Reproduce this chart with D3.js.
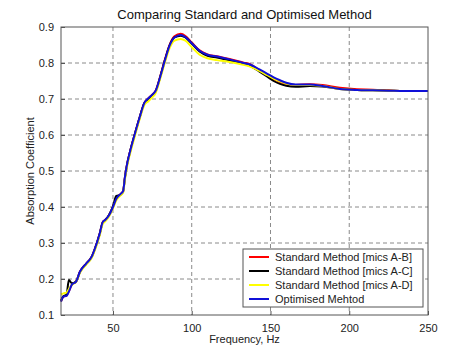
<!DOCTYPE html>
<html>
<head>
<meta charset="utf-8">
<script src="https://cdn.jsdelivr.net/npm/d3@7"></script>
<style>
  body { margin: 0; background: #fff; }
  svg { font-family: "Liberation Sans", Arial, sans-serif; }
</style>
</head>
<body>
<div id="chart"></div>
<script>
// frequencies (Hz) shared by all series
let freq = [17, 18.5, 20.5, 22, 24, 26.5, 29, 33, 36.5, 38.5, 41.5, 43.5, 45, 47.5, 50, 52, 55, 56.5, 57.5, 59,
    61, 64, 67, 70, 72.5, 75, 77, 80, 83, 86, 89, 93, 96, 100, 105, 110, 116, 124, 133, 137,
    143, 148, 152, 156, 160, 166, 175, 183, 194, 205, 215, 225, 235, 250];

let stdAB = [0.138, 0.151, 0.154, 0.166, 0.185, 0.192, 0.220, 0.243, 0.262, 0.284, 0.325, 0.358, 0.364, 0.377, 0.400, 0.422, 0.437, 0.445, 0.480, 0.520,
    0.557, 0.605, 0.650, 0.690, 0.702, 0.712, 0.722, 0.763, 0.810, 0.851, 0.874, 0.881, 0.875, 0.857, 0.835, 0.824, 0.819, 0.811, 0.801, 0.797,
    0.780, 0.766, 0.755, 0.747, 0.742, 0.739, 0.741, 0.739, 0.731, 0.727, 0.726, 0.724, 0.722, 0.722];

let stdAC = [0.140, 0.152, 0.156, 0.197, 0.188, 0.193, 0.219, 0.242, 0.261, 0.283, 0.324, 0.357, 0.363, 0.378, 0.402, 0.430, 0.434, 0.444, 0.478, 0.519,
    0.556, 0.604, 0.649, 0.689, 0.698, 0.710, 0.720, 0.761, 0.808, 0.849, 0.871, 0.876, 0.871, 0.854, 0.832, 0.820, 0.815, 0.807, 0.797, 0.792,
    0.776, 0.762, 0.750, 0.742, 0.737, 0.734, 0.736, 0.735, 0.728, 0.725, 0.724, 0.723, 0.722, 0.722];

let stdAD = [0.157, 0.160, 0.162, 0.172, 0.184, 0.191, 0.217, 0.240, 0.259, 0.280, 0.320, 0.353, 0.360, 0.374, 0.396, 0.418, 0.433, 0.441, 0.474, 0.514,
    0.551, 0.599, 0.645, 0.684, 0.694, 0.705, 0.716, 0.757, 0.802, 0.842, 0.862, 0.867, 0.862, 0.844, 0.823, 0.813, 0.808, 0.803, 0.795, 0.790,
    0.778, 0.766, 0.757, 0.749, 0.743, 0.739, 0.739, 0.736, 0.728, 0.725, 0.724, 0.723, 0.722, 0.722];

let optimised = [0.137, 0.151, 0.153, 0.165, 0.185, 0.192, 0.220, 0.243, 0.262, 0.284, 0.325, 0.358, 0.364, 0.377, 0.400, 0.422, 0.437, 0.445, 0.480, 0.520,
    0.557, 0.605, 0.650, 0.690, 0.702, 0.712, 0.722, 0.762, 0.808, 0.849, 0.871, 0.878, 0.872, 0.855, 0.834, 0.823, 0.818, 0.810, 0.800, 0.796,
    0.782, 0.770, 0.760, 0.752, 0.745, 0.740, 0.740, 0.736, 0.728, 0.725, 0.724, 0.723, 0.722, 0.722];

let seriesNames = ["Standard Method [mics A-B]", "Standard Method [mics A-C]", "Standard Method [mics A-D]", "Optimised Mehtod"];
let seriesColors = ["#ff0000", "#000000", "#ffff00", "#1010d8"];
let xTicks = [50, 100, 150, 200, 250];
let yTicks = [0.1, 0.2, 0.3, 0.4, 0.5, 0.6, 0.7, 0.8, 0.9];

let series = [stdAB, stdAC, stdAD, optimised].map(function(vals, i) {
    return {
        name: seriesNames[i],
        color: seriesColors[i],
        values: vals.map(function(v, j) { return {f: freq[j], v: v}; })
    };
});

let W = 474, H = 349;
let margin = {top: 27, right: 46, bottom: 34, left: 61};
let width = W - margin.left - margin.right;
let height = H - margin.top - margin.bottom;

let svg = d3.select("#chart").append("svg")
    .attr("width", W)
    .attr("height", H);

let g = svg.append("g")
    .attr("transform", "translate(" + margin.left + "," + margin.top + ")");

let x = d3.scaleLinear().domain([17, 250]).range([0, width]);
let y = d3.scaleLinear().domain([0.1, 0.9]).range([height, 0]);

// grid
g.append("g")
    .selectAll("line")
    .data(xTicks.slice(0, -1))
    .enter().append("line")
    .attr("x1", function(d) { return x(d); })
    .attr("x2", function(d) { return x(d); })
    .attr("y1", 0)
    .attr("y2", height)
    .attr("stroke", "#8a8a8a")
    .attr("stroke-dasharray", "4,3");

g.append("g")
    .selectAll("line")
    .data(yTicks.slice(1, -1))
    .enter().append("line")
    .attr("x1", 0)
    .attr("x2", width)
    .attr("y1", function(d) { return y(d); })
    .attr("y2", function(d) { return y(d); })
    .attr("stroke", "#8a8a8a")
    .attr("stroke-dasharray", "4,3");

// axes (matlab style: ticks inside)
let xAxis = g.append("g")
    .attr("transform", "translate(0," + height + ")")
    .call(d3.axisBottom(x).tickValues(xTicks).tickSize(-4).tickPadding(9).tickFormat(d3.format("d")));
let yAxis = g.append("g")
    .call(d3.axisLeft(y).tickValues(yTicks).tickSize(-4).tickPadding(7).tickFormat(d3.format(".1f")));

[xAxis, yAxis].forEach(function(a) {
    a.select(".domain").remove();
    a.selectAll("line").attr("stroke", "#555");
    a.selectAll("text").attr("font-size", 11).attr("fill", "#222")
        .attr("font-family", "Liberation Sans, Arial, sans-serif");
});

// lines
let line = d3.line()
    .x(function(d) { return x(d.f); })
    .y(function(d) { return y(d.v); })
    .curve(d3.curveMonotoneX);

g.append("g")
    .selectAll("path")
    .data(series)
    .enter().append("path")
    .attr("d", function(d) { return line(d.values); })
    .attr("fill", "none")
    .attr("stroke", function(d) { return d.color; })
    .attr("stroke-width", 2)
    .attr("stroke-linejoin", "round");

// frame
g.append("rect")
    .attr("width", width)
    .attr("height", height)
    .attr("fill", "none")
    .attr("stroke", "#555")
    .attr("stroke-width", 1);

// legend
let lg = g.append("g")
    .attr("transform", "translate(" + (width - 185) + "," + (height - 66) + ")");

lg.append("rect")
    .attr("width", 180)
    .attr("height", 58)
    .attr("fill", "#fff")
    .attr("stroke", "#555");

let item = lg.selectAll("g")
    .data(series)
    .enter().append("g")
    .attr("transform", function(d, i) { return "translate(0," + (8 + i * 14) + ")"; });

item.append("line")
    .attr("x1", 6)
    .attr("x2", 26)
    .attr("stroke", function(d) { return d.color; })
    .attr("stroke-width", 2);

item.append("text")
    .attr("x", 32)
    .attr("dy", "0.35em")
    .attr("font-size", 11)
    .attr("fill", "#222")
    .text(function(d) { return d.name; });

// titles
svg.append("text")
    .attr("x", margin.left + width / 2)
    .attr("y", 19)
    .attr("text-anchor", "middle")
    .attr("font-size", 13)
    .attr("fill", "#111")
    .text("Comparing Standard and Optimised Method");

svg.append("text")
    .attr("x", margin.left + width / 2)
    .attr("y", 343)
    .attr("text-anchor", "middle")
    .attr("font-size", 11)
    .attr("fill", "#222")
    .text("Frequency, Hz");

svg.append("text")
    .attr("transform", "translate(34," + (margin.top + height / 2) + ") rotate(-90)")
    .attr("text-anchor", "middle")
    .attr("font-size", 11)
    .attr("fill", "#222")
    .text("Absorption Coefficient");
</script>
</body>
</html>
